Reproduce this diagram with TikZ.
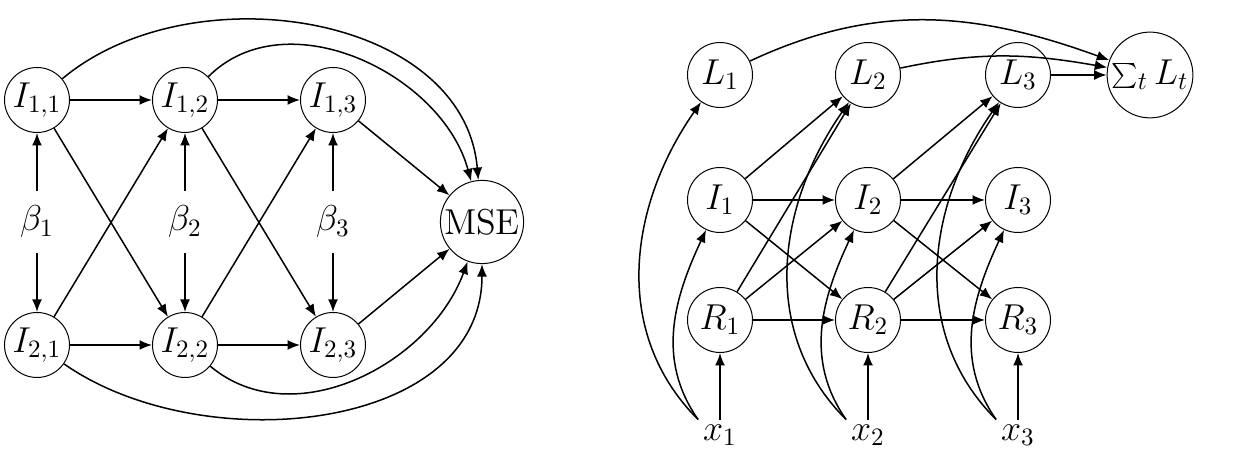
\documentclass[tikz,border=0pt]{standalone}
\usetikzlibrary{arrows.meta}
\begin{document}
\begin{tikzpicture}[x=0.4pt,y=-0.4pt,
 nd/.style={circle,draw,minimum size=26pt,inner sep=0.5pt,font=\Large},
 lb/.style={font=\Large,inner sep=1pt,outer sep=5pt},
 ar/.style={-{Latex[length=5pt,width=4pt]},semithick}]
\useasboundingbox (0,0) rectangle (1239,450);
\node[nd] (a11) at (37,100) {$I_{1,1}$};
\node[nd] (a12) at (185,100) {$I_{1,2}$};
\node[nd] (a13) at (333,100) {$I_{1,3}$};
\node[nd] (a21) at (37,345) {$I_{2,1}$};
\node[nd] (a22) at (185,345) {$I_{2,2}$};
\node[nd] (a23) at (333,345) {$I_{2,3}$};
\node[nd,minimum size=30pt] (mse) at (482,222) {MSE};
\node[lb] (b1) at (37,222) {$\beta_1$};
\node[lb] (b2) at (185,222) {$\beta_2$};
\node[lb] (b3) at (333,222) {$\beta_3$};
\foreach \i in {1,2,3}{\draw[ar] (b\i)--(a1\i); \draw[ar] (b\i)--(a2\i);}
\draw[ar] (a11)--(a12); \draw[ar] (a12)--(a13);
\draw[ar] (a21)--(a22); \draw[ar] (a22)--(a23);
\draw[ar] (a11)--(a22); \draw[ar] (a21)--(a12);
\draw[ar] (a12)--(a23); \draw[ar] (a22)--(a13);
\draw[ar] (a13)--(mse); \draw[ar] (a23)--(mse);
\draw[ar] (a11) to[out=40,in=95] (mse);
\draw[ar] (a12) to[out=45,in=105] (mse);
\draw[ar] (a21) to[out=-35,in=-90] (mse);
\draw[ar] (a22) to[out=-40,in=-110] (mse);

\node[nd] (l1) at (720,75) {$L_1$};
\node[nd] (l2) at (868,75) {$L_2$};
\node[nd] (l3) at (1018,75) {$L_3$};
\node[nd,minimum size=34pt] (sum) at (1150,75) {$\sum_t L_t$};
\node[nd] (i1) at (720,200) {$I_1$};
\node[nd] (i2) at (868,200) {$I_2$};
\node[nd] (i3) at (1018,200) {$I_3$};
\node[nd] (r1) at (720,320) {$R_1$};
\node[nd] (r2) at (868,320) {$R_2$};
\node[nd] (r3) at (1018,320) {$R_3$};
\node[lb,outer sep=1pt] (x1) at (720,435) {$x_1$};
\node[lb,outer sep=1pt] (x2) at (868,435) {$x_2$};
\node[lb,outer sep=1pt] (x3) at (1018,435) {$x_3$};
\draw[ar] (l1) to[out=25,in=160] (sum);
\draw[ar] (l2) to[out=12,in=170] (sum);
\draw[ar] (l3)--(sum);
\draw[ar] (i1)--(i2); \draw[ar] (i2)--(i3);
\draw[ar] (r1)--(r2); \draw[ar] (r2)--(r3);
\draw[ar] (i1)--(r2); \draw[ar] (i2)--(r3);
\draw[ar] (r1)--(i2); \draw[ar] (r2)--(i3);
\draw[ar] (i1)--(l2); \draw[ar] (r1)--(l2);
\draw[ar] (i2)--(l3); \draw[ar] (r2)--(l3);
\foreach \i/\il/\ll in {1/i1/l1,2/i2/l2,3/i3/l3}{
 \draw[ar] (x\i.north west) to[out=125,in=245] (\il);
 \draw[ar] (x\i.north west) to[out=135,in=235] (\ll);
 \draw[ar] (x\i)--(r\i);}
\end{tikzpicture}
\end{document}
